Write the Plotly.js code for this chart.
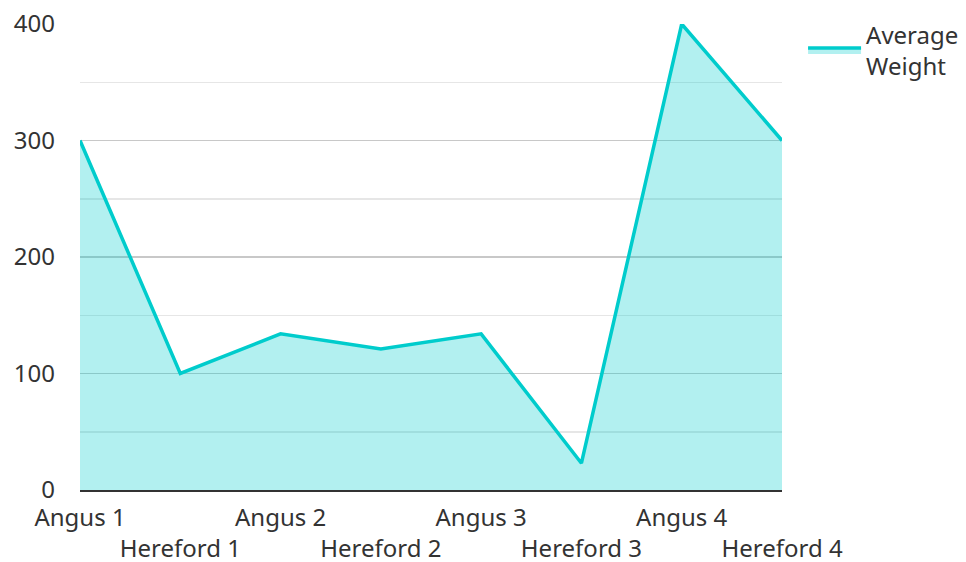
<!DOCTYPE html>
<html>
<head>
<meta charset="utf-8">
<script src="https://cdn.plot.ly/plotly-3.0.1.min.js"></script>
<style>html,body{margin:0;padding:0;background:#fff;}#chart{width:966px;height:562px;}</style>
</head>
<body>
<div id="chart"></div>
<script>
const categories = ["Angus 1", "Hereford 1", "Angus 2", "Hereford 2", "Angus 3", "Hereford 3", "Angus 4", "Hereford 4"];
const averageWeight = [300, 100, 134, 121, 134, 23, 400, 300];
const seriesName = "Average<br>Weight";
const yTicks = [0, 100, 200, 300, 400];

// alternate labels onto a second row
const tickText = categories.map((c, i) => i % 2 === 1 ? "<br>" + c : c);

const trace = {
  type: "scatter",
  mode: "lines",
  x: categories,
  y: averageWeight,
  name: seriesName,
  fill: "tozeroy",
  fillcolor: "rgba(0,204,204,0.3)",
  line: { color: "rgb(0,204,204)", width: 3.5 }
};

const layout = {
  width: 966,
  height: 562,
  margin: { l: 80, r: 184, t: 24, b: 72, autoexpand: false },
  paper_bgcolor: "#fff",
  plot_bgcolor: "#fff",
  font: { family: "Noto Sans, sans-serif", size: 24, color: "#333" },
  showlegend: true,
  legend: {
    x: 1.03, xanchor: "left", y: 1.025, yanchor: "top",
    font: { size: 24, color: "#333" },
    itemwidth: 53
  },
  xaxis: {
    type: "category",
    range: [0, categories.length - 1],
    tickmode: "array",
    tickvals: categories,
    ticktext: tickText,
    tickangle: 0,
    showgrid: false,
    zeroline: false,
    showline: true,
    linecolor: "#333",
    linewidth: 2,
    ticks: "",
    ticklabelstandoff: 5,
    fixedrange: true
  },
  yaxis: {
    range: [0, 400],
    tickmode: "array",
    tickvals: yTicks,
    showgrid: true,
    gridcolor: "#c8c8c8",
    gridwidth: 1.5,
    minor: { dtick: 50, showgrid: true, gridcolor: "#e6e6e6", gridwidth: 1.5 },
    zeroline: false,
    showline: false,
    ticks: "",
    ticklabelstandoff: 24,
    fixedrange: true
  }
};

Plotly.newPlot("chart", [trace], layout, { displayModeBar: false, staticPlot: true });
</script>
</body>
</html>
